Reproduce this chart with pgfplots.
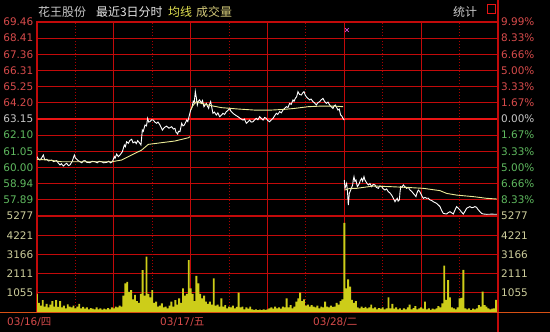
\documentclass[border=0pt]{standalone}
\usepackage{pgfplots}
\pgfplotsset{compat=1.18}
\usepackage{fontspec}
\setmainfont{DejaVu Sans}
\newfontfamily\cjk{Noto Sans CJK SC}
\definecolor{gridred}{RGB}{195,10,10}
\definecolor{dotred}{RGB}{170,0,0}
\definecolor{midred}{RGB}{235,20,20}
\definecolor{upred}{RGB}{215,75,75}
\definecolor{dngreen}{RGB}{95,185,95}
\definecolor{volkhaki}{RGB}{205,205,155}
\definecolor{volyel}{RGB}{205,205,25}
\definecolor{avgyel}{RGB}{235,235,150}
\definecolor{hdrgray}{RGB}{200,200,200}
\definecolor{basered}{RGB}{215,80,20}
\definecolor{boxred}{RGB}{230,20,20}
\definecolor{markmag}{RGB}{215,80,215}
\newcommand\lbl{\fontsize{10.5}{12}\selectfont}
\pgfplotsset{
  chartgrid/.style={
    scale only axis, width=461bp, xmin=0, xmax=720,
    axis line style={gridred, line width=1.1bp},
    xtick={0,120,...,720},
    extra x ticks={60,180,300,420,540,660},
    extra x tick style={grid style={dotred, line width=0.9bp, dash pattern=on 1bp off 2bp}},
    extra x tick labels={},
    grid=major, grid style={gridred, line width=1.1bp},
    xticklabels={}, yticklabels={},
    major tick length=0pt, tick style={draw=none},
  }
}
\begin{document}
\begin{tikzpicture}
\fill[black] (0,0) rectangle (550bp,-332bp);
% price panel
\begin{axis}[chartgrid,
  at={(37bp,-216bp)}, anchor=south west, height=194bp,
  ymin=56.84, ymax=69.46,
  ytick={57.8917,58.9433,59.995,61.0467,62.0983,64.2017,65.2533,66.305,67.3567,68.4083},
  extra y ticks={63.15}, extra y tick labels={},
  extra y tick style={grid style={midred, line width=1.9bp}},
]
\addplot[white, line width=0.9bp] coordinates {
(0,60.70)(2,60.55)(4.7,60.48)(7,60.60)(9.9,60.81)(12,60.50)(15.1,60.53)(18,60.42)(22.9,60.48)(26,60.38)(30.7,60.44)(33,60.30)(35.9,60.16)(38,60.25)(41.1,60.09)(44,60.20)(46.3,60.27)(49,60.12)(51.5,60.16)(55,60.40)(58.3,60.81)(60,60.62)(62.0,60.53)(64,60.45)(67.2,60.37)(70,60.30)(72,60.42)(75.0,60.44)(78,60.33)(82.8,60.31)(86,60.40)(90.6,60.37)(94,60.30)(97,60.40)(101.0,60.37)(104,60.30)(108.8,60.33)(112,60.40)(115,60.30)(117.7,60.37)(120.8,60.70)(122,60.60)(124.4,60.87)(127,60.70)(129.6,60.81)(133.3,61.02)(136.4,61.46)(138,61.35)(140.0,61.67)(142.6,61.57)(145,61.75)(147.9,61.83)(150,61.60)(153.1,61.67)(155,61.55)(157.2,61.74)(160,61.60)(162.4,61.46)(164.5,62.43)(166,62.35)(168.7,62.76)(171,62.70)(172.8,63.19)(174.5,62.95)(176.5,62.98)(179,63.10)(181.7,63.08)(184,62.95)(186.9,62.87)(189,62.95)(192.1,62.76)(194,62.60)(195.8,62.43)(199,62.60)(202.5,62.69)(206,62.55)(210.3,62.65)(213,62.50)(215.5,62.54)(217,62.30)(219.7,62.17)(221,62.35)(223.3,62.33)(226.0,62.87)(228,62.70)(230.1,62.76)(233.8,63.08)(235.5,62.98)(237.4,63.30)(240,63.73)
(242,63.90)(244,64.30)(245.5,64.20)(247.3,64.93)(249,64.50)(250.4,64.06)(252,64.30)(254.0,64.39)(256.6,64.17)(258.5,64.35)(260.8,63.95)(262.5,64.05)(264.4,64.17)(266,64.00)(268.1,63.84)(269.5,64.10)(271.2,64.28)(273,63.90)(274.8,63.52)(277,63.60)(280.1,63.41)(282.5,63.55)(285.3,63.30)(288,63.40)(290.5,63.52)(293,63.45)(295.7,63.63)(298,63.70)(300.9,63.84)(303,63.65)(306.1,63.52)(310,63.40)(313.9,63.30)(317,63.20)(321.7,63.08)(324,63.15)(326.9,62.87)(329,62.95)(332.1,63.08)(334.5,62.95)(337.3,62.97)(340,63.10)(342.5,63.19)(345,63.10)(347.7,63.30)(350,63.20)(353.0,63.08)(355.5,63.25)(358.1,63.19)(360.5,63.05)(363.3,62.97)(366,63.10)(368.6,63.19)(371,63.35)(373.8,63.52)(376,63.45)(379.0,63.63)(381.5,63.55)(384.2,63.73)(387,63.85)(389.4,63.95)(392,63.90)(394.6,64.17)(397,64.10)(399.8,64.39)(401.5,64.30)(403.4,64.49)(405.5,64.60)(407.6,64.93)(410,64.75)(412.8,64.71)(415,64.85)(417.0,64.93)(419,64.70)(420.6,64.60)(423,64.50)(425.8,64.39)(428,64.45)(431.0,64.28)(433.5,64.20)(436.2,64.06)(438.5,64.20)(441.4,64.28)(444,64.40)(446.6,64.49)(449,64.30)(451.9,64.17)(454.5,64.25)(457.1,64.06)(459.5,63.95)(462.3,63.84)(464,64.00)(465.9,64.06)(468,63.90)(470.1,63.73)(472,63.80)(474.2,63.41)(476,63.35)(477.9,63.19)(480,63.08)
};
\addplot[white, line width=0.9bp] coordinates {
(480,59.18)(481.0,58.64)(482.3,58.80)(483.6,58.96)(485,58.40)(486.2,57.55)(487.8,58.31)(489.9,58.53)(491.5,58.70)(493.0,58.86)(494,59.20)(495.1,59.40)(496.5,59.10)(498.2,59.18)(500.3,58.75)(502,58.85)(503.4,58.96)(505,59.15)(507.0,59.29)(508.5,59.10)(510.7,59.40)(512,59.20)(513.8,59.07)(515.5,58.95)(517.5,58.86)(520,58.95)(522.7,58.75)(525,58.90)(527.9,58.86)(530,58.70)(533.1,58.64)(535.5,58.80)(538.3,58.75)(541,58.60)(543.5,58.53)(546,58.60)(548.7,58.42)(551,58.35)(553.9,58.20)(556.5,58.00)(559.1,57.77)(561,57.90)(562.7,57.99)(564,57.80)(565.9,57.88)(567,58.40)(568.0,58.75)(570,58.70)(572.1,58.86)(574.5,58.75)(577.3,58.64)(580,58.70)(582.5,58.53)(585,58.45)(587.7,58.31)(590,58.20)(591.9,58.10)(593.5,58.35)(595.5,58.53)(597.5,58.45)(599.2,58.31)(601,58.15)(603.4,57.99)(606,58.05)(608.6,57.99)(611,58.00)(613.8,57.88)(616.5,57.85)(619.0,57.77)(621.5,57.72)(624.2,57.66)(627,57.55)(629.4,57.45)(632,57.20)(634.6,57.01)(637,56.99)(639.8,56.97)(642,57.05)(645.0,57.12)(647.5,57.05)(650.2,56.97)(652.5,57.20)(655.4,57.45)(658,57.35)(660.6,57.23)(663,57.10)(665.8,56.97)(668.5,57.15)(671.0,57.34)(673.5,57.40)(676.2,57.45)(679,57.38)(681.4,57.40)(684,57.45)(686.6,57.40)(689,57.25)(691.9,57.12)(694.5,57.00)(697.1,56.97)(702.3,56.95)(710,56.96)(720,56.95)
};
\addplot[avgyel, line width=0.9bp] coordinates {
(0,60.53)(17.7,60.48)(38.5,60.37)(75,60.37)(116.6,60.37)(132.2,60.48)(147.9,60.81)(163.5,61.13)(173.9,61.50)(194.7,61.61)(215.5,61.72)(236.4,61.93)(239,62.00)
};
\addplot[avgyel, line width=0.9bp] coordinates {
(240,63.73)(243,64.00)(249,64.28)(256.6,64.17)(267,64.06)(287.9,63.89)(314,63.80)(340,63.73)(366,63.73)(387,63.78)(402.4,63.84)(423.2,63.95)(444,63.99)(465,63.99)(478,63.95)
};
\addplot[avgyel, line width=0.9bp] coordinates {
(481,58.53)(488.8,58.64)(499.2,58.64)(525.3,58.79)(551.3,58.75)(577.3,58.70)(603.4,58.64)(629.4,58.49)(639.8,58.31)(655.4,58.20)(681.4,58.10)(702.3,57.99)(720,57.94)
};
\addplot[only marks, mark=x, mark size=2.6bp, color=markmag, line width=0.8bp] coordinates {(484,68.94)};
\end{axis}
% volume panel
\begin{axis}[chartgrid,
  at={(37bp,-312bp)}, anchor=south west, height=96bp,
  ymin=0, ymax=5277,
  ytick={1055,2111,3166,4221},
]
\addplot[fill=volyel, draw=none, const plot mark mid] coordinates {
(0,1000)(3,500)(6,350)(9,650)(12,300)(15,450)(18,250)(21,400)(24,600)(27,300)(30,650)(33,280)(36,600)(39,250)(42,350)(45,200)(48,420)(51,300)(54,250)(57,350)(60,200)(63,300)(66,450)(69,200)(72,280)(75,180)(78,250)(81,150)(84,220)(87,180)(90,150)(93,250)(96,150)(99,200)(102,130)(105,180)(108,150)(111,220)(114,150)(117,260)(120,200)(123,300)(126,250)(129,350)(132,300)(135,900)(138,1576)(141,1650)(144,1100)(147,1200)(150,700)(153,935)(156,600)(159,500)(162,1000)(165,2300)(168,900)(171,3050)(174,1000)(177,800)(180,1200)(183,500)(186,570)(189,300)(192,350)(195,470)(198,250)(201,300)(204,200)(207,350)(210,570)(213,300)(216,650)(219,400)(222,750)(225,500)(228,1300)(231,900)(234,1000)(237,2850)(240,1300)
(243,1000)(246,600)(249,1980)(252,1576)(255,1000)(258,750)(261,900)(264,570)(267,450)(270,570)(273,400)(276,1850)(279,350)(282,400)(285,300)(288,750)(291,300)(294,380)(297,200)(300,300)(303,250)(306,350)(309,200)(312,280)(315,1063)(318,250)(321,300)(324,150)(327,250)(330,180)(333,300)(336,150)(339,120)(342,150)(345,100)(348,130)(351,100)(354,150)(357,120)(360,150)(363,200)(366,250)(369,180)(372,300)(375,200)(378,250)(381,180)(384,300)(387,250)(390,750)(393,250)(396,380)(399,200)(402,300)(405,570)(408,750)(411,1063)(414,600)(417,700)(420,350)(423,400)(426,300)(429,380)(432,300)(435,250)(438,350)(441,200)(444,300)(447,250)(450,568)(453,300)(456,250)(459,350)(462,280)(465,300)(468,500)(471,400)(474,600)(477,700)
(480,4900)(483,1300)(486,1796)(489,1400)(492,660)(495,500)(498,600)(501,250)(504,200)(507,290)(510,220)(513,280)(516,200)(519,250)(522,400)(525,200)(528,260)(531,150)(534,220)(537,180)(540,260)(543,150)(546,200)(549,800)(552,200)(555,440)(558,180)(561,260)(564,150)(567,200)(570,120)(573,200)(576,150)(579,260)(582,400)(585,150)(588,220)(591,330)(594,150)(597,200)(600,260)(603,180)(606,570)(609,150)(612,200)(615,120)(618,180)(621,150)(624,200)(627,330)(630,250)(633,480)(636,2547)(639,660)(642,1759)(645,800)(648,260)(651,200)(654,150)(657,250)(660,750)(663,770)(666,2309)(669,200)(672,150)(675,200)(678,100)(681,180)(684,150)(687,200)(690,380)(693,300)(696,1118)(699,380)(702,300)(705,200)(708,150)(711,180)(714,200)(717,660)(720,380)
} \closedcycle;
\end{axis}
% frame pieces outside the panels
\draw[gridred, line width=1.1bp] (498bp,0bp) -- (498bp,-332bp);
\draw[basered, line width=1.1bp] (0bp,-312.5bp) -- (550bp,-312.5bp);
% header
\node[anchor=west, inner sep=0, text=hdrgray] at (38bp,-12bp) {\cjk\fontsize{12}{14}\selectfont 花王股份};
\node[anchor=west, inner sep=0, text={rgb,255:red,230;green,230;blue,230}] at (96bp,-12bp) {\cjk\fontsize{12}{14}\selectfont 最近3日分时};
\node[anchor=west, inner sep=0, text={rgb,255:red,225;green,225;blue,80}] at (168bp,-12bp) {\cjk\fontsize{12}{14}\selectfont 均线};
\node[anchor=west, inner sep=0, text={rgb,255:red,210;green,200;blue,120}] at (196bp,-12bp) {\cjk\fontsize{12}{14}\selectfont 成交量};
\node[anchor=west, inner sep=0, text=hdrgray] at (453bp,-12bp) {\cjk\fontsize{12}{14}\selectfont 统计};
\draw[boxred, line width=1.1bp] (487.5bp,-4.5bp) rectangle (495.5bp,-13.5bp);
% left labels
\foreach \y/\t/\c in {22/69.46/upred, 38.17/68.41/upred, 54.33/67.36/upred, 70.5/66.31/upred, 86.67/65.25/upred, 102.83/64.20/upred, 119/63.15/hdrgray, 135.17/62.10/dngreen, 151.33/61.05/dngreen, 167.5/60.00/dngreen, 183.67/58.94/dngreen, 199.83/57.89/dngreen, 216/5277/volkhaki, 235.2/4221/volkhaki, 254.4/3166/volkhaki, 273.6/2111/volkhaki, 292.8/1055/volkhaki}
  \node[anchor=east, inner sep=0, text=\c] at (33.5bp,{-\y*1bp}) {\lbl\t};
% right labels
\foreach \y/\t/\c in {22/9.99\%/upred, 38.17/8.33\%/upred, 54.33/6.66\%/upred, 70.5/5.00\%/upred, 86.67/3.33\%/upred, 102.83/1.67\%/upred, 119/0.00\%/hdrgray, 135.17/1.67\%/dngreen, 151.33/3.33\%/dngreen, 167.5/5.00\%/dngreen, 183.67/6.66\%/dngreen, 199.83/8.33\%/dngreen, 216/5277/volkhaki, 235.2/4221/volkhaki, 254.4/3166/volkhaki, 273.6/2111/volkhaki, 292.8/1055/volkhaki}
  \node[anchor=west, inner sep=0, text=\c] at (501bp,{-\y*1bp}) {\lbl\t};
% date labels
\node[anchor=west, inner sep=0, text=upred] at (7bp,-322bp) {\lbl 03/16/{\cjk 四}};
\node[anchor=west, inner sep=0, text=upred] at (160bp,-322bp) {\lbl 03/17/{\cjk 五}};
\node[anchor=west, inner sep=0, text=upred] at (313bp,-322bp) {\lbl 03/28/{\cjk 二}};
\pgfresetboundingbox
\path (0bp,0bp) rectangle (550bp,-332bp);
\end{tikzpicture}
\end{document}
